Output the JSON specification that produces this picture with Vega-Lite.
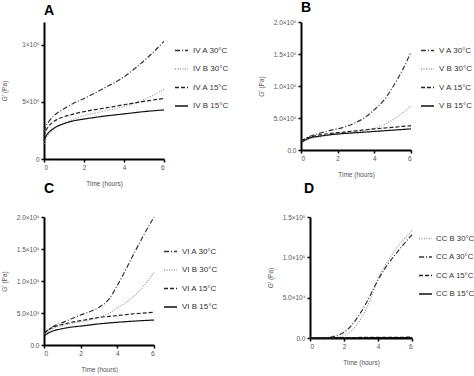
{
"$schema": "https://vega.github.io/schema/vega-lite/v6.json",
"padding": {"left": 1, "top": 1, "right": 0, "bottom": 0},
"background": "white",
"config": {
  "font": "Liberation Sans",
  "view": {"stroke": null},
  "axis": {"grid": false, "domainColor": "#000", "domainWidth": 2, "tickColor": "#000", "tickWidth": 1.5, "tickSize": 3, "labelFontSize": 6.5, "labelColor": "#555", "labelFont": "Liberation Sans", "titleFont": "Liberation Sans", "titleFontSize": 6.5, "titleFontWeight": "normal", "titleColor": "#555", "labelPadding": 2},
  "legend": {"orient": "none", "symbolType": "stroke", "symbolSize": 169, "symbolStrokeWidth": 1.3, "labelFontSize": 8, "labelColor": "#333", "labelFont": "Liberation Sans", "rowPadding": 6.5, "labelOffset": 4, "title": null, "padding": 0}
},
"data": {"values": [
{"p":"A","s":"IV A 30°C","t":0,"g":240000},{"p":"A","s":"IV A 30°C","t":0.1,"g":290000},{"p":"A","s":"IV A 30°C","t":0.25,"g":330000},{"p":"A","s":"IV A 30°C","t":0.5,"g":380000},{"p":"A","s":"IV A 30°C","t":1,"g":440000},{"p":"A","s":"IV A 30°C","t":1.5,"g":490000},{"p":"A","s":"IV A 30°C","t":2,"g":530000},{"p":"A","s":"IV A 30°C","t":3,"g":620000},{"p":"A","s":"IV A 30°C","t":4,"g":720000},{"p":"A","s":"IV A 30°C","t":5,"g":860000},{"p":"A","s":"IV A 30°C","t":6,"g":1030000},
{"p":"A","s":"IV B 30°C","t":0,"g":130000},{"p":"A","s":"IV B 30°C","t":0.1,"g":180000},{"p":"A","s":"IV B 30°C","t":0.25,"g":220000},{"p":"A","s":"IV B 30°C","t":0.5,"g":260000},{"p":"A","s":"IV B 30°C","t":1,"g":310000},{"p":"A","s":"IV B 30°C","t":1.5,"g":350000},{"p":"A","s":"IV B 30°C","t":2,"g":380000},{"p":"A","s":"IV B 30°C","t":3,"g":420000},{"p":"A","s":"IV B 30°C","t":4,"g":460000},{"p":"A","s":"IV B 30°C","t":5,"g":520000},{"p":"A","s":"IV B 30°C","t":6,"g":610000},
{"p":"A","s":"IV A 15°C","t":0,"g":200000},{"p":"A","s":"IV A 15°C","t":0.1,"g":250000},{"p":"A","s":"IV A 15°C","t":0.25,"g":290000},{"p":"A","s":"IV A 15°C","t":0.5,"g":330000},{"p":"A","s":"IV A 15°C","t":1,"g":370000},{"p":"A","s":"IV A 15°C","t":1.5,"g":395000},{"p":"A","s":"IV A 15°C","t":2,"g":415000},{"p":"A","s":"IV A 15°C","t":3,"g":445000},{"p":"A","s":"IV A 15°C","t":4,"g":475000},{"p":"A","s":"IV A 15°C","t":5,"g":505000},{"p":"A","s":"IV A 15°C","t":6,"g":530000},
{"p":"A","s":"IV B 15°C","t":0,"g":160000},{"p":"A","s":"IV B 15°C","t":0.1,"g":200000},{"p":"A","s":"IV B 15°C","t":0.25,"g":235000},{"p":"A","s":"IV B 15°C","t":0.5,"g":270000},{"p":"A","s":"IV B 15°C","t":1,"g":310000},{"p":"A","s":"IV B 15°C","t":1.5,"g":335000},{"p":"A","s":"IV B 15°C","t":2,"g":350000},{"p":"A","s":"IV B 15°C","t":3,"g":375000},{"p":"A","s":"IV B 15°C","t":4,"g":395000},{"p":"A","s":"IV B 15°C","t":5,"g":415000},{"p":"A","s":"IV B 15°C","t":6,"g":430000},
{"p":"B","s":"V A 30°C","t":0,"g":130000},{"p":"B","s":"V A 30°C","t":0.25,"g":180000},{"p":"B","s":"V A 30°C","t":0.5,"g":215000},{"p":"B","s":"V A 30°C","t":1,"g":260000},{"p":"B","s":"V A 30°C","t":1.5,"g":300000},{"p":"B","s":"V A 30°C","t":2,"g":330000},{"p":"B","s":"V A 30°C","t":3,"g":430000},{"p":"B","s":"V A 30°C","t":3.5,"g":510000},{"p":"B","s":"V A 30°C","t":4,"g":630000},{"p":"B","s":"V A 30°C","t":4.5,"g":770000},{"p":"B","s":"V A 30°C","t":5,"g":980000},{"p":"B","s":"V A 30°C","t":5.5,"g":1230000},{"p":"B","s":"V A 30°C","t":6,"g":1530000},
{"p":"B","s":"V B 30°C","t":0,"g":120000},{"p":"B","s":"V B 30°C","t":0.25,"g":150000},{"p":"B","s":"V B 30°C","t":0.5,"g":175000},{"p":"B","s":"V B 30°C","t":1,"g":205000},{"p":"B","s":"V B 30°C","t":1.5,"g":230000},{"p":"B","s":"V B 30°C","t":2,"g":250000},{"p":"B","s":"V B 30°C","t":3,"g":285000},{"p":"B","s":"V B 30°C","t":4,"g":340000},{"p":"B","s":"V B 30°C","t":4.5,"g":390000},{"p":"B","s":"V B 30°C","t":5,"g":470000},{"p":"B","s":"V B 30°C","t":5.5,"g":570000},{"p":"B","s":"V B 30°C","t":6,"g":690000},
{"p":"B","s":"V A 15°C","t":0,"g":140000},{"p":"B","s":"V A 15°C","t":0.25,"g":180000},{"p":"B","s":"V A 15°C","t":0.5,"g":205000},{"p":"B","s":"V A 15°C","t":1,"g":235000},{"p":"B","s":"V A 15°C","t":1.5,"g":255000},{"p":"B","s":"V A 15°C","t":2,"g":270000},{"p":"B","s":"V A 15°C","t":3,"g":300000},{"p":"B","s":"V A 15°C","t":4,"g":330000},{"p":"B","s":"V A 15°C","t":5,"g":355000},{"p":"B","s":"V A 15°C","t":6,"g":380000},
{"p":"B","s":"V B 15°C","t":0,"g":110000},{"p":"B","s":"V B 15°C","t":0.25,"g":160000},{"p":"B","s":"V B 15°C","t":0.5,"g":190000},{"p":"B","s":"V B 15°C","t":1,"g":215000},{"p":"B","s":"V B 15°C","t":1.5,"g":235000},{"p":"B","s":"V B 15°C","t":2,"g":250000},{"p":"B","s":"V B 15°C","t":3,"g":270000},{"p":"B","s":"V B 15°C","t":4,"g":290000},{"p":"B","s":"V B 15°C","t":5,"g":310000},{"p":"B","s":"V B 15°C","t":6,"g":330000},
{"p":"C","s":"VI A 30°C","t":0,"g":190000},{"p":"C","s":"VI A 30°C","t":0.25,"g":240000},{"p":"C","s":"VI A 30°C","t":0.5,"g":290000},{"p":"C","s":"VI A 30°C","t":1,"g":350000},{"p":"C","s":"VI A 30°C","t":1.5,"g":410000},{"p":"C","s":"VI A 30°C","t":2,"g":470000},{"p":"C","s":"VI A 30°C","t":2.5,"g":520000},{"p":"C","s":"VI A 30°C","t":3,"g":590000},{"p":"C","s":"VI A 30°C","t":3.5,"g":700000},{"p":"C","s":"VI A 30°C","t":4,"g":930000},{"p":"C","s":"VI A 30°C","t":4.5,"g":1200000},{"p":"C","s":"VI A 30°C","t":5,"g":1480000},{"p":"C","s":"VI A 30°C","t":5.5,"g":1750000},{"p":"C","s":"VI A 30°C","t":6,"g":2000000},
{"p":"C","s":"VI B 30°C","t":0,"g":170000},{"p":"C","s":"VI B 30°C","t":0.25,"g":220000},{"p":"C","s":"VI B 30°C","t":0.5,"g":260000},{"p":"C","s":"VI B 30°C","t":1,"g":300000},{"p":"C","s":"VI B 30°C","t":1.5,"g":335000},{"p":"C","s":"VI B 30°C","t":2,"g":365000},{"p":"C","s":"VI B 30°C","t":3,"g":430000},{"p":"C","s":"VI B 30°C","t":3.5,"g":490000},{"p":"C","s":"VI B 30°C","t":4,"g":580000},{"p":"C","s":"VI B 30°C","t":4.5,"g":670000},{"p":"C","s":"VI B 30°C","t":5,"g":790000},{"p":"C","s":"VI B 30°C","t":5.5,"g":940000},{"p":"C","s":"VI B 30°C","t":6,"g":1140000},
{"p":"C","s":"VI A 15°C","t":0,"g":180000},{"p":"C","s":"VI A 15°C","t":0.25,"g":240000},{"p":"C","s":"VI A 15°C","t":0.5,"g":280000},{"p":"C","s":"VI A 15°C","t":1,"g":320000},{"p":"C","s":"VI A 15°C","t":1.5,"g":355000},{"p":"C","s":"VI A 15°C","t":2,"g":380000},{"p":"C","s":"VI A 15°C","t":3,"g":430000},{"p":"C","s":"VI A 15°C","t":4,"g":460000},{"p":"C","s":"VI A 15°C","t":5,"g":490000},{"p":"C","s":"VI A 15°C","t":6,"g":510000},
{"p":"C","s":"VI B 15°C","t":0,"g":140000},{"p":"C","s":"VI B 15°C","t":0.25,"g":190000},{"p":"C","s":"VI B 15°C","t":0.5,"g":220000},{"p":"C","s":"VI B 15°C","t":1,"g":255000},{"p":"C","s":"VI B 15°C","t":1.5,"g":280000},{"p":"C","s":"VI B 15°C","t":2,"g":295000},{"p":"C","s":"VI B 15°C","t":3,"g":330000},{"p":"C","s":"VI B 15°C","t":4,"g":355000},{"p":"C","s":"VI B 15°C","t":5,"g":375000},{"p":"C","s":"VI B 15°C","t":6,"g":390000},
{"p":"D","s":"CC B 30°C","t":0,"g":0},{"p":"D","s":"CC B 30°C","t":1,"g":0},{"p":"D","s":"CC B 30°C","t":1.5,"g":800},{"p":"D","s":"CC B 30°C","t":2,"g":3000},{"p":"D","s":"CC B 30°C","t":2.5,"g":10000},{"p":"D","s":"CC B 30°C","t":3,"g":24000},{"p":"D","s":"CC B 30°C","t":3.5,"g":45000},{"p":"D","s":"CC B 30°C","t":4,"g":73000},{"p":"D","s":"CC B 30°C","t":4.5,"g":93000},{"p":"D","s":"CC B 30°C","t":5,"g":109000},{"p":"D","s":"CC B 30°C","t":5.5,"g":122000},{"p":"D","s":"CC B 30°C","t":6,"g":133000},
{"p":"D","s":"CC A 30°C","t":0,"g":0},{"p":"D","s":"CC A 30°C","t":1,"g":300},{"p":"D","s":"CC A 30°C","t":1.5,"g":2500},{"p":"D","s":"CC A 30°C","t":2,"g":7000},{"p":"D","s":"CC A 30°C","t":2.5,"g":17000},{"p":"D","s":"CC A 30°C","t":3,"g":32000},{"p":"D","s":"CC A 30°C","t":3.5,"g":51000},{"p":"D","s":"CC A 30°C","t":4,"g":72000},{"p":"D","s":"CC A 30°C","t":4.5,"g":89000},{"p":"D","s":"CC A 30°C","t":5,"g":103000},{"p":"D","s":"CC A 30°C","t":5.5,"g":116000},{"p":"D","s":"CC A 30°C","t":6,"g":128000},
{"p":"D","s":"CC A 15°C","t":0,"g":0},{"p":"D","s":"CC A 15°C","t":2,"g":500},{"p":"D","s":"CC A 15°C","t":4,"g":800},{"p":"D","s":"CC A 15°C","t":6,"g":1000},
{"p":"D","s":"CC B 15°C","t":0,"g":0},{"p":"D","s":"CC B 15°C","t":3,"g":300},{"p":"D","s":"CC B 15°C","t":6,"g":500}
]},
"spacing": -5,
"resolve": {"scale": {"color": "independent", "strokeDash": "independent"}, "legend": {"color": "independent", "strokeDash": "independent"}},
"vconcat": [
 {"hconcat": [
  {"width": 120, "height": 137,
   "title": {"text": "A", "anchor": "start", "frame": "group", "fontSize": 14, "fontWeight": "bold", "font": "Liberation Sans", "offset": 4},
   "transform": [{"filter": "datum.p == 'A'"}],
   "mark": {"type": "line", "interpolate": "monotone", "strokeWidth": 1.2},
   "encoding": {
    "x": {"field": "t", "type": "quantitative", "scale": {"domain": [0, 6], "nice": false}, "axis": {"values": [0, 2, 4, 6], "title": "Time (hours)", "titleY": 21}},
    "y": {"field": "g", "type": "quantitative", "scale": {"domain": [0, 1200000], "nice": false}, "axis": {"values": [0, 500000, 1000000], "labelExpr": "datum.value == 0 ? '0' : datum.value == 500000 ? '5×10⁵' : '1×10⁶'", "title": "G' (Pa)", "titleX": -37}},
    "color": {"field": "s", "type": "nominal", "scale": {"domain": ["IV A 30°C", "IV B 30°C", "IV A 15°C", "IV B 15°C"], "range": ["#333", "#999", "#222", "#111"]}, "legend": {"legendX": 130, "legendY": 21}},
    "strokeDash": {"field": "s", "type": "nominal", "scale": {"domain": ["IV A 30°C", "IV B 30°C", "IV A 15°C", "IV B 15°C"], "range": [[5, 2, 1, 2], [1, 1.5], [4, 2], [1, 0]]}, "legend": {"legendX": 130, "legendY": 21}}
   }},
  {"width": 110, "height": 128,
   "title": {"text": "B", "anchor": "start", "frame": "group", "fontSize": 14, "fontWeight": "bold", "font": "Liberation Sans", "offset": 4},
   "transform": [{"filter": "datum.p == 'B'"}],
   "mark": {"type": "line", "interpolate": "monotone", "strokeWidth": 1.2},
   "encoding": {
    "x": {"field": "t", "type": "quantitative", "scale": {"domain": [0, 6], "nice": false}, "axis": {"values": [0, 2, 4, 6], "title": "Time (hours)", "titleY": 21}},
    "y": {"field": "g", "type": "quantitative", "scale": {"domain": [0, 2000000], "nice": false}, "axis": {"values": [0, 500000, 1000000, 1500000, 2000000], "labelExpr": "datum.value == 0 ? '0.0' : datum.value < 1000000 ? format(datum.value/100000,'.1f') + '×10⁵' : format(datum.value/1000000,'.1f') + '×10⁶'", "title": "G' (Pa)", "titleX": -37}},
    "color": {"field": "s", "type": "nominal", "scale": {"domain": ["V A 30°C", "V B 30°C", "V A 15°C", "V B 15°C"], "range": ["#333", "#999", "#222", "#111"]}, "legend": {"legendX": 119, "legendY": 21}},
    "strokeDash": {"field": "s", "type": "nominal", "scale": {"domain": ["V A 30°C", "V B 30°C", "V A 15°C", "V B 15°C"], "range": [[5, 2, 1, 2], [1, 1.5], [4, 2], [1, 0]]}, "legend": {"legendX": 119, "legendY": 21}}
   }}
 ], "spacing": 137, "bounds": "flush",
 "resolve": {"scale": {"color": "independent", "strokeDash": "independent"}, "legend": {"color": "independent", "strokeDash": "independent"}}},
 {"hconcat": [
  {"width": 110, "height": 128,
   "title": {"text": "C", "anchor": "start", "frame": "group", "fontSize": 14, "fontWeight": "bold", "font": "Liberation Sans", "offset": 18},
   "transform": [{"filter": "datum.p == 'C'"}],
   "mark": {"type": "line", "interpolate": "monotone", "strokeWidth": 1.2},
   "encoding": {
    "x": {"field": "t", "type": "quantitative", "scale": {"domain": [0, 6], "nice": false}, "axis": {"values": [0, 2, 4, 6], "title": "Time (hours)", "titleY": 21}},
    "y": {"field": "g", "type": "quantitative", "scale": {"domain": [0, 2000000], "nice": false}, "axis": {"values": [0, 500000, 1000000, 1500000, 2000000], "labelExpr": "datum.value == 0 ? '0.0' : datum.value < 1000000 ? format(datum.value/100000,'.1f') + '×10⁵' : format(datum.value/1000000,'.1f') + '×10⁶'", "title": "G' (Pa)", "titleX": -37}},
    "color": {"field": "s", "type": "nominal", "scale": {"domain": ["VI A 30°C", "VI B 30°C", "VI A 15°C", "VI B 15°C"], "range": ["#333", "#999", "#222", "#111"]}, "legend": {"legendX": 119, "legendY": 27}},
    "strokeDash": {"field": "s", "type": "nominal", "scale": {"domain": ["VI A 30°C", "VI B 30°C", "VI A 15°C", "VI B 15°C"], "range": [[5, 2, 1, 2], [1, 1.5], [4, 2], [1, 0]]}, "legend": {"legendX": 119, "legendY": 27}}
   }},
  {"width": 102, "height": 121,
   "title": {"text": "D", "anchor": "start", "frame": "group", "fontSize": 14, "fontWeight": "bold", "font": "Liberation Sans", "offset": 18, "dx": -6},
   "transform": [{"filter": "datum.p == 'D'"}],
   "mark": {"type": "line", "interpolate": "monotone", "strokeWidth": 1.2},
   "encoding": {
    "x": {"field": "t", "type": "quantitative", "scale": {"domain": [0, 6], "nice": false}, "axis": {"values": [0, 2, 4, 6], "title": "Time (hours)", "titleY": 21}},
    "y": {"field": "g", "type": "quantitative", "scale": {"domain": [0, 150000], "nice": false}, "axis": {"values": [0, 50000, 100000, 150000], "labelExpr": "datum.value == 0 ? '0.0' : datum.value < 100000 ? format(datum.value/10000,'.1f') + '×10⁴' : format(datum.value/100000,'.1f') + '×10⁵'", "title": "G' (Pa)", "titleX": -37}},
    "color": {"field": "s", "type": "nominal", "scale": {"domain": ["CC B 30°C", "CC A 30°C", "CC A 15°C", "CC B 15°C"], "range": ["#999", "#333", "#222", "#111"]}, "legend": {"legendX": 108, "legendY": 14, "labelOffset": 3, "labelFontSize": 7.8}},
    "strokeDash": {"field": "s", "type": "nominal", "scale": {"domain": ["CC B 30°C", "CC A 30°C", "CC A 15°C", "CC B 15°C"], "range": [[1, 1.5], [5, 2, 1, 2], [4, 2], [1, 0]]}, "legend": {"legendX": 108, "legendY": 14, "labelOffset": 3, "labelFontSize": 7.8}}
   }}
 ], "spacing": 156, "bounds": "flush",
 "resolve": {"scale": {"color": "independent", "strokeDash": "independent"}, "legend": {"color": "independent", "strokeDash": "independent"}}}
]
}
